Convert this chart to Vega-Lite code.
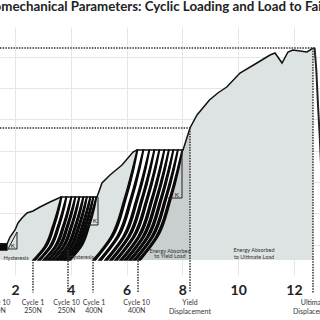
{
  "$schema": "https://vega.github.io/schema/vega-lite/v6.json",
  "autosize": {"type": "none"},
  "padding": {"left": 0, "right": 0, "top": 27, "bottom": 45},
  "width": 320,
  "height": 248,
  "background": "white",
  "config": {"view": {"stroke": null}},
  "title": {"text": "Biomechanical Parameters: Cyclic Loading and Load to Failure", "font": "Lato", "fontSize": 13.3, "fontWeight": "bold", "color": "#222222", "anchor": "middle", "offset": 3, "baseline": "alphabetic", "dx": 3},
  "datasets": {
    "envelope": [
      {"x": 1.462, "load": 64}, {"x": 1.713, "load": 64}, {"x": 1.821, "load": 92}, {"x": 2.0, "load": 120},
      {"x": 2.108, "load": 148}, {"x": 2.251, "load": 168}, {"x": 2.43, "load": 188}, {"x": 2.645, "load": 196},
      {"x": 2.896, "load": 212}, {"x": 3.254, "load": 232}, {"x": 3.649, "load": 252}, {"x": 4.939, "load": 252},
      {"x": 5.118, "load": 308}, {"x": 5.405, "load": 340}, {"x": 5.835, "load": 380}, {"x": 6.23, "load": 432},
      {"x": 6.373, "load": 440}, {"x": 8.022, "load": 440}, {"x": 8.272, "load": 528}, {"x": 8.523, "load": 580},
      {"x": 8.97, "load": 640}, {"x": 9.27, "load": 668}, {"x": 9.59, "load": 692}, {"x": 10.064, "load": 748},
      {"x": 10.67, "load": 788}, {"x": 11.14, "load": 820}, {"x": 11.32, "load": 828}, {"x": 11.57, "load": 788},
      {"x": 11.785, "load": 832}, {"x": 11.96, "load": 840}, {"x": 12.466, "load": 832}, {"x": 12.64, "load": 844}, {"x": 12.681, "load": 848}
    ],
    "drop": [
      {"x": 12.681, "load": 848}, {"x": 12.74, "load": 846}, {"x": 12.8, "load": 760}, {"x": 12.86, "load": 620}, {"x": 12.93, "load": 480}, {"x": 13.0, "load": 300}
    ],
    "darkfill": [
      {"x": 6.373, "load": 440}, {"x": 8.022, "load": 440}, {"x": 8.272, "load": 528}
    ],
    "bands": [
      {"g": "B", "x": 2.645, "x2": 3.993, "load": 0}, {"g": "B", "x": 3.046, "x2": 4.387, "load": 53},
      {"g": "B", "x": 3.348, "x2": 4.675, "load": 137}, {"g": "B", "x": 3.548, "x2": 4.857, "load": 211},
      {"g": "B", "x": 3.649, "x2": 4.929, "load": 252},
      {"g": "C", "x": 4.796, "x2": 6.502, "load": 0}, {"g": "C", "x": 5.427, "x2": 7.126, "load": 93},
      {"g": "C", "x": 5.9, "x2": 7.585, "load": 240}, {"g": "C", "x": 6.215, "x2": 7.882, "load": 368},
      {"g": "C", "x": 6.373, "x2": 8.011, "load": 440}
    ],
    "loops": [
      {"id": "A", "x": 1.4, "x2": 1.713, "load": 40}, {"id": "A", "x": 1.4, "x2": 1.713, "load": 64},
      {"id": "B1", "x": 2.645, "x2": 2.738, "load": 0}, {"id": "B1", "x": 3.046, "x2": 3.132, "load": 53}, {"id": "B1", "x": 3.348, "x2": 3.42, "load": 137}, {"id": "B1", "x": 3.548, "x2": 3.602, "load": 211}, {"id": "B1", "x": 3.649, "x2": 3.674, "load": 252},
      {"id": "B2", "x": 2.824, "x2": 2.917, "load": 0}, {"id": "B2", "x": 3.225, "x2": 3.311, "load": 53}, {"id": "B2", "x": 3.527, "x2": 3.599, "load": 137}, {"id": "B2", "x": 3.727, "x2": 3.781, "load": 211}, {"id": "B2", "x": 3.828, "x2": 3.853, "load": 252},
      {"id": "B3", "x": 3.004, "x2": 3.097, "load": 0}, {"id": "B3", "x": 3.405, "x2": 3.491, "load": 53}, {"id": "B3", "x": 3.707, "x2": 3.779, "load": 137}, {"id": "B3", "x": 3.907, "x2": 3.961, "load": 211}, {"id": "B3", "x": 4.008, "x2": 4.033, "load": 252},
      {"id": "B4", "x": 3.147, "x2": 3.24, "load": 0}, {"id": "B4", "x": 3.548, "x2": 3.634, "load": 53}, {"id": "B4", "x": 3.85, "x2": 3.922, "load": 137}, {"id": "B4", "x": 4.05, "x2": 4.104, "load": 211}, {"id": "B4", "x": 4.151, "x2": 4.176, "load": 252},
      {"id": "B5", "x": 3.29, "x2": 3.383, "load": 0}, {"id": "B5", "x": 3.691, "x2": 3.777, "load": 53}, {"id": "B5", "x": 3.993, "x2": 4.065, "load": 137}, {"id": "B5", "x": 4.193, "x2": 4.247, "load": 211}, {"id": "B5", "x": 4.294, "x2": 4.319, "load": 252},
      {"id": "B6", "x": 3.434, "x2": 3.527, "load": 0}, {"id": "B6", "x": 3.835, "x2": 3.921, "load": 53}, {"id": "B6", "x": 4.137, "x2": 4.209, "load": 137}, {"id": "B6", "x": 4.337, "x2": 4.391, "load": 211}, {"id": "B6", "x": 4.438, "x2": 4.463, "load": 252},
      {"id": "B7", "x": 3.559, "x2": 3.652, "load": 0}, {"id": "B7", "x": 3.96, "x2": 4.046, "load": 53}, {"id": "B7", "x": 4.262, "x2": 4.334, "load": 137}, {"id": "B7", "x": 4.462, "x2": 4.516, "load": 211}, {"id": "B7", "x": 4.563, "x2": 4.588, "load": 252},
      {"id": "B8", "x": 3.685, "x2": 3.778, "load": 0}, {"id": "B8", "x": 4.086, "x2": 4.172, "load": 53}, {"id": "B8", "x": 4.388, "x2": 4.46, "load": 137}, {"id": "B8", "x": 4.588, "x2": 4.642, "load": 211}, {"id": "B8", "x": 4.689, "x2": 4.714, "load": 252},
      {"id": "B9", "x": 3.792, "x2": 3.885, "load": 0}, {"id": "B9", "x": 4.193, "x2": 4.279, "load": 53}, {"id": "B9", "x": 4.495, "x2": 4.567, "load": 137}, {"id": "B9", "x": 4.695, "x2": 4.749, "load": 211}, {"id": "B9", "x": 4.796, "x2": 4.821, "load": 252},
      {"id": "B10", "x": 3.9, "x2": 3.993, "load": 0}, {"id": "B10", "x": 4.301, "x2": 4.387, "load": 53}, {"id": "B10", "x": 4.603, "x2": 4.675, "load": 137}, {"id": "B10", "x": 4.803, "x2": 4.857, "load": 211}, {"id": "B10", "x": 4.904, "x2": 4.929, "load": 252},
      {"id": "C1", "x": 4.796, "x2": 4.889, "load": 0}, {"id": "C1", "x": 5.427, "x2": 5.513, "load": 93}, {"id": "C1", "x": 5.9, "x2": 5.972, "load": 240}, {"id": "C1", "x": 6.215, "x2": 6.269, "load": 368}, {"id": "C1", "x": 6.373, "x2": 6.398, "load": 440},
      {"id": "C2", "x": 5.011, "x2": 5.104, "load": 0}, {"id": "C2", "x": 5.642, "x2": 5.728, "load": 93}, {"id": "C2", "x": 6.115, "x2": 6.187, "load": 240}, {"id": "C2", "x": 6.43, "x2": 6.484, "load": 368}, {"id": "C2", "x": 6.588, "x2": 6.613, "load": 440},
      {"id": "C3", "x": 5.226, "x2": 5.319, "load": 0}, {"id": "C3", "x": 5.857, "x2": 5.943, "load": 93}, {"id": "C3", "x": 6.33, "x2": 6.402, "load": 240}, {"id": "C3", "x": 6.645, "x2": 6.699, "load": 368}, {"id": "C3", "x": 6.803, "x2": 6.828, "load": 440},
      {"id": "C4", "x": 5.405, "x2": 5.498, "load": 0}, {"id": "C4", "x": 6.036, "x2": 6.122, "load": 93}, {"id": "C4", "x": 6.509, "x2": 6.581, "load": 240}, {"id": "C4", "x": 6.824, "x2": 6.878, "load": 368}, {"id": "C4", "x": 6.982, "x2": 7.007, "load": 440},
      {"id": "C5", "x": 5.584, "x2": 5.677, "load": 0}, {"id": "C5", "x": 6.215, "x2": 6.301, "load": 93}, {"id": "C5", "x": 6.688, "x2": 6.76, "load": 240}, {"id": "C5", "x": 7.003, "x2": 7.057, "load": 368}, {"id": "C5", "x": 7.161, "x2": 7.186, "load": 440},
      {"id": "C6", "x": 5.763, "x2": 5.856, "load": 0}, {"id": "C6", "x": 6.394, "x2": 6.48, "load": 93}, {"id": "C6", "x": 6.867, "x2": 6.939, "load": 240}, {"id": "C6", "x": 7.182, "x2": 7.236, "load": 368}, {"id": "C6", "x": 7.34, "x2": 7.365, "load": 440},
      {"id": "C7", "x": 5.925, "x2": 6.018, "load": 0}, {"id": "C7", "x": 6.556, "x2": 6.642, "load": 93}, {"id": "C7", "x": 7.029, "x2": 7.101, "load": 240}, {"id": "C7", "x": 7.344, "x2": 7.398, "load": 368}, {"id": "C7", "x": 7.502, "x2": 7.527, "load": 440},
      {"id": "C8", "x": 6.086, "x2": 6.179, "load": 0}, {"id": "C8", "x": 6.717, "x2": 6.803, "load": 93}, {"id": "C8", "x": 7.19, "x2": 7.262, "load": 240}, {"id": "C8", "x": 7.505, "x2": 7.559, "load": 368}, {"id": "C8", "x": 7.663, "x2": 7.688, "load": 440},
      {"id": "C9", "x": 6.247, "x2": 6.34, "load": 0}, {"id": "C9", "x": 6.878, "x2": 6.964, "load": 93}, {"id": "C9", "x": 7.351, "x2": 7.423, "load": 240}, {"id": "C9", "x": 7.666, "x2": 7.72, "load": 368}, {"id": "C9", "x": 7.824, "x2": 7.849, "load": 440},
      {"id": "C10", "x": 6.409, "x2": 6.502, "load": 0}, {"id": "C10", "x": 7.04, "x2": 7.126, "load": 93}, {"id": "C10", "x": 7.513, "x2": 7.585, "load": 240}, {"id": "C10", "x": 7.828, "x2": 7.882, "load": 368}, {"id": "C10", "x": 7.986, "x2": 8.011, "load": 440}
    ],
    "triangles": [
      {"k": "A", "o": 1, "x": 1.749, "load": 44}, {"k": "A", "o": 2, "x": 2.072, "load": 44}, {"k": "A", "o": 3, "x": 2.072, "load": 112}, {"k": "A", "o": 4, "x": 1.749, "load": 44},
      {"k": "B", "o": 1, "x": 4.581, "load": 140}, {"k": "B", "o": 2, "x": 4.975, "load": 140}, {"k": "B", "o": 3, "x": 4.975, "load": 252},
      {"k": "C", "o": 1, "x": 7.484, "load": 248}, {"k": "C", "o": 2, "x": 7.986, "load": 248}, {"k": "C", "o": 3, "x": 7.986, "load": 440}
    ],
    "dotted": [
      {"x": 1.4624, "x2": 12.681, "load": 848, "load2": 848},
      {"x": 1.4624, "x2": 8.272, "load": 528, "load2": 528},
      {"x": 8.272, "x2": 8.272, "load": 528, "load2": -130},
      {"x": 12.681, "x2": 12.681, "load": 848, "load2": -130},
      {"x": 2.645, "x2": 2.645, "load": -8, "load2": -130},
      {"x": 3.9, "x2": 3.9, "load": 40, "load2": -130},
      {"x": 4.796, "x2": 4.796, "load": -8, "load2": -130},
      {"x": 6.409, "x2": 6.409, "load": 8, "load2": -130}
    ],
    "captions": [
      {"t": "Cycle 10", "x": 1.355, "load": -172}, {"t": "100N", "x": 1.355, "load": -204},
      {"t": "Cycle 1", "x": 2.645, "load": -172}, {"t": "250N", "x": 2.645, "load": -204},
      {"t": "Cycle 10", "x": 3.846, "load": -172}, {"t": "250N", "x": 3.846, "load": -204},
      {"t": "Cycle 1", "x": 4.83, "load": -172}, {"t": "400N", "x": 4.83, "load": -204},
      {"t": "Cycle 10", "x": 6.36, "load": -172}, {"t": "400N", "x": 6.36, "load": -204},
      {"t": "Yield", "x": 8.272, "load": -172}, {"t": "Displacement", "x": 8.272, "load": -208},
      {"t": "Ultimate", "x": 12.717, "load": -172}, {"t": "Displacement", "x": 12.717, "load": -208}
    ],
    "notes": [
      {"t": "Energy Absorbed", "x": 7.556, "load": 37}, {"t": "to Yield Load", "x": 7.556, "load": 16},
      {"t": "Energy Absorbed", "x": 10.566, "load": 40}, {"t": "to Ultimate Load", "x": 10.566, "load": 13},
      {"t": "Hysteresis", "x": 2.036, "load": 8}, {"t": "Hysteresis", "x": 4.383, "load": 12}
    ],
    "klabels": [
      {"t": "K", "x": 1.928, "load": 56}, {"t": "K", "x": 4.867, "load": 156}, {"t": "K", "x": 7.8, "load": 260}
    ]
  },
  "layer": [
    {
      "data": {"name": "envelope"},
      "mark": {"type": "area", "color": "#dde2e2", "clip": true},
      "encoding": {
        "x": {"field": "x", "type": "quantitative", "scale": {"domain": [1.4624, 12.932], "nice": false, "zero": false},
          "axis": {"values": [2, 4, 6, 8, 10, 12], "format": "d", "title": null, "grid": true, "gridColor": "#e6e6e6", "domain": false, "ticks": false, "labelFont": "Lato", "labelFontSize": 14, "labelFontWeight": "bold", "labelColor": "#222222", "labelPadding": 8}},
        "y": {"field": "load", "type": "quantitative", "scale": {"domain": [-60, 932], "nice": false, "zero": false},
          "axis": {"values": [62, 187, 312, 437, 562, 687, 812], "title": null, "grid": true, "gridColor": "#e6e6e6", "domain": false, "ticks": false, "labels": false}}
      }
    },
    {
      "data": {"name": "darkfill"},
      "mark": {"type": "area", "color": "#c9cfcf", "clip": true},
      "encoding": {
        "x": {"field": "x", "type": "quantitative"},
        "y": {"field": "load", "type": "quantitative"}
      }
    },
    {
      "data": {"name": "bands"},
      "mark": {"type": "area", "orient": "horizontal", "color": "#ffffff", "interpolate": "monotone", "clip": true},
      "encoding": {
        "y": {"field": "load", "type": "quantitative"},
        "x": {"field": "x", "type": "quantitative"},
        "x2": {"field": "x2"},
        "detail": {"field": "g"}
      }
    },
    {
      "data": {"name": "loops"},
      "mark": {"type": "area", "orient": "horizontal", "color": "#0a0a0a", "stroke": "#0a0a0a", "strokeWidth": 1.3, "interpolate": "monotone", "clip": true},
      "encoding": {
        "y": {"field": "load", "type": "quantitative"},
        "x": {"field": "x", "type": "quantitative"},
        "x2": {"field": "x2"},
        "detail": {"field": "id"}
      }
    },
    {
      "data": {"name": "envelope"},
      "mark": {"type": "line", "color": "#111111", "strokeWidth": 1.5, "clip": true},
      "encoding": {
        "x": {"field": "x", "type": "quantitative"},
        "y": {"field": "load", "type": "quantitative"}
      }
    },
    {
      "data": {"name": "drop"},
      "mark": {"type": "line", "color": "#222222", "strokeWidth": 2, "clip": true},
      "encoding": {
        "x": {"field": "x", "type": "quantitative"},
        "y": {"field": "load", "type": "quantitative"}
      }
    },
    {
      "data": {"name": "triangles"},
      "mark": {"type": "line", "color": "#222222", "strokeWidth": 1},
      "encoding": {
        "x": {"field": "x", "type": "quantitative"},
        "y": {"field": "load", "type": "quantitative"},
        "detail": {"field": "k"},
        "order": {"field": "o", "type": "quantitative"}
      }
    },
    {
      "data": {"name": "dotted"},
      "mark": {"type": "rule", "color": "#333333", "strokeWidth": 1.5, "strokeDash": [1.5, 1.2]},
      "encoding": {
        "x": {"field": "x", "type": "quantitative"},
        "x2": {"field": "x2"},
        "y": {"field": "load", "type": "quantitative"},
        "y2": {"field": "load2"}
      }
    },
    {
      "data": {"name": "captions"},
      "mark": {"type": "text", "font": "Lato", "fontSize": 7, "color": "#333333", "baseline": "middle", "align": "center"},
      "encoding": {
        "x": {"field": "x", "type": "quantitative"},
        "y": {"field": "load", "type": "quantitative"},
        "text": {"field": "t"}
      }
    },
    {
      "data": {"name": "notes"},
      "mark": {"type": "text", "font": "Lato", "fontSize": 5.5, "color": "#333333", "baseline": "middle", "align": "center"},
      "encoding": {
        "x": {"field": "x", "type": "quantitative"},
        "y": {"field": "load", "type": "quantitative"},
        "text": {"field": "t"}
      }
    },
    {
      "data": {"name": "klabels"},
      "mark": {"type": "text", "font": "Lato", "fontSize": 6.5, "color": "#222222", "baseline": "middle", "align": "center"},
      "encoding": {
        "x": {"field": "x", "type": "quantitative"},
        "y": {"field": "load", "type": "quantitative"},
        "text": {"field": "t"}
      }
    }
  ]
}
